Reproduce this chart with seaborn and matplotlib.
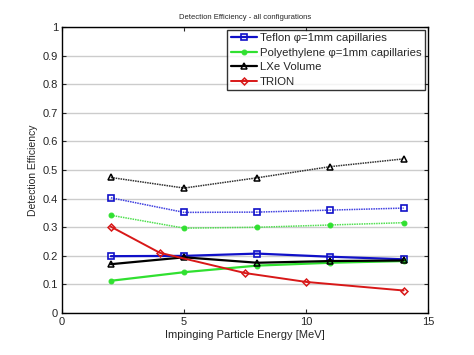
import numpy as np
import matplotlib.pyplot as plt
import seaborn as sns
import pandas as pd

# Data
energy = [2, 5, 8, 11, 14]
teflon = [0.199, 0.200, 0.208, 0.197, 0.188]
teflon_dot = [0.403, 0.352, 0.353, 0.360, 0.367]
poly = [0.113, 0.143, 0.166, 0.176, 0.182]
poly_dot = [0.342, 0.297, 0.300, 0.308, 0.316]
lxe = [0.171, 0.195, 0.176, 0.182, 0.184]
lxe_dot = [0.474, 0.437, 0.473, 0.512, 0.539]
trion_energy = [2, 4, 7.5, 10, 14]
trion = [0.302, 0.211, 0.140, 0.109, 0.079]

sns.set_style("white")
plt.rcParams['font.family'] = ['Liberation Sans', 'DejaVu Sans']

fig, ax = plt.subplots(figsize=(4.74, 3.55), dpi=100)

blue = '#1010c8'
green = '#30e030'
red = '#d81818'

#! dotted (upper) curves, not in legend
sns.lineplot(x=energy, y=lxe_dot, ax=ax, color='#303030', linestyle=(0, (1, 0.6)), linewidth=1.1,
             marker='^', markersize=4.5, markerfacecolor='none', markeredgecolor='black', markeredgewidth=1.1)
sns.lineplot(x=energy, y=teflon_dot, ax=ax, color='#4040e0', linestyle=(0, (1, 0.6)), linewidth=1.1,
             marker='s', markersize=3.8, markerfacecolor='none', markeredgecolor=blue, markeredgewidth=1.2)
sns.lineplot(x=energy, y=poly_dot, ax=ax, color='#50e050', linestyle=(0, (1, 0.6)), linewidth=1.1,
             marker='o', markersize=3.5, markerfacecolor=green, markeredgecolor=green)

#! solid curves
sns.lineplot(x=energy, y=teflon, ax=ax, color=blue, linewidth=1.6, marker='s', markersize=3.8,
             markerfacecolor='none', markeredgecolor=blue, markeredgewidth=1.2,
             label='Teflon φ=1mm capillaries')
sns.lineplot(x=energy, y=poly, ax=ax, color=green, linewidth=1.6, marker='o', markersize=3.5,
             markerfacecolor=green, markeredgecolor=green,
             label='Polyethylene φ=1mm capillaries')
sns.lineplot(x=energy, y=lxe, ax=ax, color='black', linewidth=1.6, marker='^', markersize=4.5,
             markerfacecolor='none', markeredgecolor='black', markeredgewidth=1.1,
             label='LXe Volume')
sns.lineplot(x=trion_energy, y=trion, ax=ax, color=red, linewidth=1.4, marker='D', markersize=3.5,
             markerfacecolor='none', markeredgecolor=red, markeredgewidth=1.1,
             label='TRION')

ax.set_xlim(0, 15)
ax.set_ylim(0, 1)
ax.set_xticks([0, 5, 10, 15])
ax.set_yticks(np.round(np.arange(0, 1.01, 0.1), 1))
ax.set_yticklabels(['0', '0.1', '0.2', '0.3', '0.4', '0.5', '0.6', '0.7', '0.8', '0.9', '1'])
ax.yaxis.grid(True, color='#cccccc', linewidth=1.0)
ax.set_axisbelow(True)
ax.tick_params(direction='in', length=3, width=0.8, labelsize=8, top=True, right=True,
               bottom=True, left=True, pad=3)
for s in ax.spines.values():
    s.set_color('black')
    s.set_linewidth(1.0)

ax.set_xlabel("Impinging Particle Energy [MeV]", fontsize=8, labelpad=2)
ax.set_ylabel("Detection Efficiency", fontsize=7.5, labelpad=3)
ax.set_title("Detection Efficiency - all configurations", fontsize=5.5, pad=6)

leg = ax.legend(loc='upper right', fontsize=8.2, frameon=True, fancybox=False, borderpad=0.3,
                labelspacing=0.4, handlelength=2.3, handletextpad=0.3, borderaxespad=0.25,
                bbox_to_anchor=(1.0, 1.0))
leg.get_frame().set_edgecolor('black')
leg.get_frame().set_linewidth(1.0)

fig.subplots_adjust(left=0.131, right=0.903, top=0.924, bottom=0.118)
plt.savefig("out.png", dpi=100)
